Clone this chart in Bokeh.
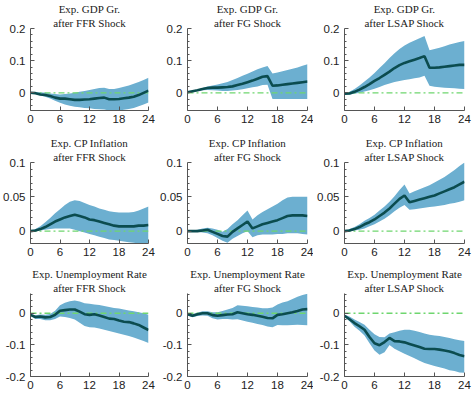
from bokeh.plotting import figure
from bokeh.layouts import gridplot
from bokeh.models import Range1d, FixedTicker, CustomJSTickFormatter, Title
from bokeh.embed import file_html
from bokeh.resources import INLINE

# ---------------- data ----------------
months = list(range(25))
x_ticks = [0, 6, 12, 18, 24]

variables = ["Exp. GDP Gr.", "Exp. CP Inflation", "Exp. Unemployment Rate"]
shocks = ["FFR", "FG", "LSAP"]

# Expected GDP growth
gdp_ffr_mid = [0, -0.001, -0.005, -0.007, -0.010, -0.015, -0.018, -0.018, -0.020, -0.022, -0.022, -0.021, -0.020,
               -0.018, -0.016, -0.015, -0.020, -0.020, -0.019, -0.017, -0.015, -0.012, -0.007, 0.000, 0.007]
gdp_ffr_hi = [0, 0.002, 0.002, 0.000, -0.002, -0.004, -0.005, -0.004, -0.002, 0.000, 0.003, 0.006, 0.009,
              0.012, 0.015, 0.016, 0.012, 0.012, 0.015, 0.019, 0.023, 0.028, 0.034, 0.040, 0.047]
gdp_ffr_lo = [0, -0.003, -0.008, -0.012, -0.018, -0.025, -0.031, -0.036, -0.040, -0.043, -0.045, -0.047, -0.048,
              -0.050, -0.051, -0.052, -0.055, -0.055, -0.055, -0.053, -0.050, -0.047, -0.042, -0.036, -0.030]

gdp_fg_mid = [0.002, 0.005, 0.008, 0.012, 0.015, 0.016, 0.016, 0.017, 0.018, 0.020, 0.024, 0.028, 0.033,
              0.038, 0.044, 0.050, 0.052, 0.022, 0.023, 0.025, 0.027, 0.029, 0.031, 0.033, 0.035]
gdp_fg_hi = [0.002, 0.006, 0.010, 0.015, 0.020, 0.023, 0.026, 0.030, 0.034, 0.040, 0.046, 0.053, 0.059,
             0.066, 0.073, 0.079, 0.083, 0.060, 0.063, 0.067, 0.071, 0.075, 0.079, 0.084, 0.089]
gdp_fg_lo = [0.002, 0.004, 0.006, 0.008, 0.009, 0.008, 0.007, 0.006, 0.006, 0.007, 0.009, 0.011, 0.014,
             0.017, 0.020, 0.024, 0.025, -0.019, -0.019, -0.019, -0.019, -0.019, -0.019, -0.019, -0.019]

gdp_lsap_mid = [-0.003, -0.002, 0.003, 0.010, 0.018, 0.027, 0.037, 0.046, 0.056, 0.066, 0.077, 0.086, 0.093,
                0.098, 0.103, 0.108, 0.114, 0.078, 0.078, 0.079, 0.081, 0.083, 0.085, 0.087, 0.087]
gdp_lsap_hi = [-0.002, 0.003, 0.012, 0.023, 0.035, 0.048, 0.062, 0.077, 0.092, 0.108, 0.123, 0.136, 0.147,
               0.156, 0.163, 0.170, 0.177, 0.132, 0.136, 0.140, 0.145, 0.150, 0.154, 0.158, 0.161]
gdp_lsap_lo = [-0.005, -0.005, -0.003, 0.000, 0.004, 0.008, 0.013, 0.018, 0.024, 0.029, 0.034, 0.037, 0.040,
               0.042, 0.045, 0.048, 0.053, 0.022, 0.019, 0.017, 0.016, 0.015, 0.014, 0.013, 0.012]

# Expected CP inflation
cp_ffr_mid = [0, 0.001, 0.003, 0.006, 0.010, 0.014, 0.017, 0.020, 0.022, 0.024, 0.022, 0.020, 0.017,
              0.016, 0.014, 0.012, 0.010, 0.008, 0.007, 0.007, 0.007, 0.007, 0.008, 0.008, 0.009]
cp_ffr_hi = [0, 0.003, 0.007, 0.013, 0.019, 0.026, 0.032, 0.038, 0.043, 0.045, 0.044, 0.041, 0.038,
             0.036, 0.033, 0.031, 0.029, 0.028, 0.027, 0.027, 0.027, 0.028, 0.030, 0.033, 0.036]
cp_ffr_lo = [0, 0.000, 0.001, 0.002, 0.003, 0.004, 0.004, 0.004, 0.004, 0.002, 0.000, -0.002, -0.004,
             -0.006, -0.008, -0.010, -0.012, -0.013, -0.014, -0.015, -0.016, -0.017, -0.018, -0.018, -0.018]

cp_fg_mid = [0, 0, 0.000, 0.001, 0.002, -0.001, -0.004, -0.007, -0.008, -0.001, 0.004, 0.009, 0.014,
             0.004, 0.007, 0.010, 0.012, 0.014, 0.016, 0.019, 0.022, 0.023, 0.023, 0.023, 0.022]
cp_fg_hi = [0, 0.001, 0.002, 0.004, 0.005, 0.004, 0.002, -0.001, 0.003, 0.010, 0.016, 0.023, 0.030,
            0.017, 0.023, 0.028, 0.032, 0.036, 0.040, 0.045, 0.049, 0.050, 0.050, 0.050, 0.050]
cp_fg_lo = [0, -0.001, -0.001, -0.002, -0.003, -0.006, -0.010, -0.014, -0.017, -0.011, -0.007, -0.003, 0.000,
            -0.009, -0.006, -0.005, -0.005, -0.005, -0.004, -0.004, -0.003, -0.003, -0.003, -0.004, -0.005]

cp_lsap_mid = [0, 0.001, 0.003, 0.006, 0.010, 0.013, 0.017, 0.022, 0.027, 0.033, 0.040, 0.047, 0.052,
               0.042, 0.044, 0.046, 0.048, 0.050, 0.052, 0.055, 0.058, 0.061, 0.064, 0.068, 0.072]
cp_lsap_hi = [0, 0.003, 0.006, 0.010, 0.015, 0.019, 0.024, 0.030, 0.036, 0.043, 0.051, 0.060, 0.068,
              0.055, 0.058, 0.061, 0.064, 0.067, 0.071, 0.075, 0.079, 0.084, 0.089, 0.095, 0.100]
cp_lsap_lo = [0, 0.000, 0.001, 0.002, 0.004, 0.007, 0.010, 0.014, 0.018, 0.023, 0.029, 0.034, 0.038,
              0.031, 0.032, 0.033, 0.034, 0.035, 0.036, 0.037, 0.038, 0.040, 0.041, 0.043, 0.045]

# Expected unemployment rate
ur_ffr_mid = [-0.005, -0.012, -0.010, -0.013, -0.012, -0.005, 0.008, 0.010, 0.012, 0.012, 0.005, -0.003, -0.005,
              -0.003, -0.007, -0.012, -0.017, -0.018, -0.023, -0.027, -0.028, -0.032, -0.037, -0.045, -0.053]
ur_ffr_hi = [-0.002, -0.006, -0.004, -0.005, -0.002, 0.008, 0.025, 0.033, 0.038, 0.040, 0.037, 0.032, 0.030,
             0.028, 0.026, 0.023, 0.020, 0.017, 0.015, 0.012, 0.009, 0.006, 0.003, 0.000, -0.005]
ur_ffr_lo = [-0.008, -0.018, -0.018, -0.022, -0.022, -0.018, -0.010, -0.012, -0.015, -0.020, -0.030, -0.040, -0.044,
             -0.045, -0.048, -0.052, -0.056, -0.060, -0.064, -0.068, -0.072, -0.077, -0.082, -0.088, -0.094]

ur_fg_mid = [-0.003, -0.008, -0.003, 0.000, 0.000, -0.006, -0.008, -0.006, -0.004, -0.003, 0.003, 0.000, -0.003,
             -0.005, -0.008, -0.011, -0.015, -0.016, -0.005, -0.003, 0.000, 0.003, 0.007, 0.012, 0.013]
ur_fg_hi = [0.000, -0.003, 0.002, 0.006, 0.006, 0.003, 0.003, 0.007, 0.012, 0.017, 0.025, 0.024, 0.022,
            0.020, 0.018, 0.016, 0.016, 0.018, 0.028, 0.034, 0.038, 0.045, 0.052, 0.058, 0.062]
ur_fg_lo = [-0.006, -0.013, -0.009, -0.007, -0.008, -0.016, -0.020, -0.018, -0.018, -0.020, -0.019, -0.023, -0.027,
            -0.030, -0.034, -0.037, -0.042, -0.044, -0.037, -0.038, -0.038, -0.037, -0.036, -0.037, -0.038]

ur_lsap_mid = [-0.008, -0.019, -0.031, -0.041, -0.052, -0.075, -0.095, -0.101, -0.091, -0.078, -0.088, -0.089, -0.092,
               -0.097, -0.102, -0.107, -0.112, -0.113, -0.113, -0.115, -0.118, -0.121, -0.126, -0.132, -0.136]
ur_lsap_hi = [-0.005, -0.010, -0.020, -0.028, -0.036, -0.052, -0.066, -0.075, -0.076, -0.064, -0.060, -0.055, -0.052,
              -0.052, -0.055, -0.059, -0.064, -0.068, -0.070, -0.072, -0.075, -0.078, -0.082, -0.085, -0.088]
ur_lsap_lo = [-0.010, -0.025, -0.043, -0.055, -0.070, -0.095, -0.118, -0.131, -0.123, -0.100, -0.112, -0.120, -0.128,
              -0.135, -0.142, -0.150, -0.157, -0.162, -0.167, -0.171, -0.175, -0.180, -0.183, -0.187, -0.188]

series = [
    [(gdp_ffr_mid, gdp_ffr_lo, gdp_ffr_hi), (gdp_fg_mid, gdp_fg_lo, gdp_fg_hi), (gdp_lsap_mid, gdp_lsap_lo, gdp_lsap_hi)],
    [(cp_ffr_mid, cp_ffr_lo, cp_ffr_hi), (cp_fg_mid, cp_fg_lo, cp_fg_hi), (cp_lsap_mid, cp_lsap_lo, cp_lsap_hi)],
    [(ur_ffr_mid, ur_ffr_lo, ur_ffr_hi), (ur_fg_mid, ur_fg_lo, ur_fg_hi), (ur_lsap_mid, ur_lsap_lo, ur_lsap_hi)],
]

row_ylim = [(-0.055, 0.2), (-0.018, 0.1), (-0.2, 0.0625)]
row_major_ticks = [[0, 0.1, 0.2], [0, 0.05, 0.1], [-0.2, -0.1, 0]]
row_minor_ticks = [
    [-0.04, -0.02, 0.02, 0.04, 0.06, 0.08, 0.12, 0.14, 0.16, 0.18],
    [-0.01, 0.01, 0.02, 0.03, 0.04, 0.06, 0.07, 0.08, 0.09],
    [-0.18, -0.16, -0.14, -0.12, -0.08, -0.06, -0.04, -0.02, 0.02, 0.04, 0.06],
]

# ---------------- style / layout ----------------
BAND = "#6cafd0"
LINE = "#0b4c4f"
ZERO = "#6fd66f"
col_left = [28, 31, 31]
col_right = [8, 6, 9]
frame_w = 120
row_top = [27, 27, 27]
row_frame_h = [83, 82, 84]
row_bottom = [24, 22, 20]

fmt = CustomJSTickFormatter(code="return String(Math.round(tick*1000)/1000);")


def style_title(t):
    t.text_font = "Liberation Serif"
    t.text_font_size = "11px"
    t.text_font_style = "normal"
    t.text_color = "#222222"
    t.align = "center"
    t.standoff = 0


rows = []
for r in range(3):
    row = []
    for c in range(3):
        mid, lo, hi = series[r][c]
        p = figure(
            width=col_left[c] + frame_w + col_right[c],
            height=row_top[r] + row_frame_h[r] + row_bottom[r],
            x_range=Range1d(0, 24), y_range=Range1d(*row_ylim[r]),
            output_backend="svg", toolbar_location=None,
            min_border_left=col_left[c], min_border_right=col_right[c],
            min_border_top=row_top[r], min_border_bottom=row_bottom[r],
            title=variables[r],
        )
        style_title(p.title)
        sub_title = Title(text="after " + shocks[c] + " Shock")
        style_title(sub_title)
        p.add_layout(sub_title, "above")

        p.xgrid.visible = False
        p.ygrid.visible = False
        p.outline_line_color = None
        p.background_fill_color = "white"
        p.border_fill_color = "white"

        for ax in (p.xaxis[0], p.yaxis[0]):
            ax.axis_line_color = "#555555"
            ax.major_tick_line_color = "#555555"
            ax.minor_tick_line_color = "#555555"
            ax.major_tick_in = 4
            ax.major_tick_out = 0
            ax.minor_tick_in = 2
            ax.minor_tick_out = 0
            ax.major_label_text_font = "Liberation Sans"
            ax.major_label_text_font_size = "11.5px"
            ax.major_label_text_color = "#222222"
            ax.formatter = fmt
        p.xaxis[0].ticker = FixedTicker(ticks=x_ticks, minor_ticks=[])
        p.xaxis[0].major_label_standoff = 4
        p.yaxis[0].ticker = FixedTicker(ticks=row_major_ticks[r], minor_ticks=row_minor_ticks[r])
        p.yaxis[0].major_label_standoff = 5

        p.varea(x=months, y1=lo, y2=hi, fill_color=BAND, fill_alpha=1.0)
        p.line(x=[months[0], months[-1]], y=[0, 0], line_color=ZERO, line_width=1.3, line_dash="6 3 2 3")
        p.line(x=months, y=mid, line_color=LINE, line_width=2.6)
        row.append(p)
    rows.append(row)

grid = gridplot(rows, toolbar_location=None)

open("out.html", "w").write(file_html(grid, INLINE))
